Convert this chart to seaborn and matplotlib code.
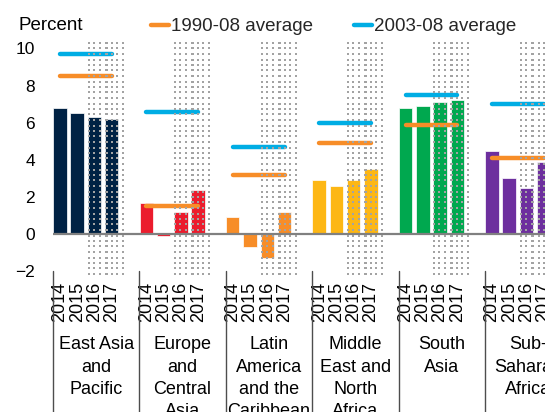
import numpy as np
import pandas as pd
import matplotlib
matplotlib.use("Agg")
import matplotlib.pyplot as plt
import matplotlib.transforms as mtransforms
from matplotlib.colors import to_rgba
from matplotlib.lines import Line2D
import seaborn as sns

# data (percent)
regions = [
    "East Asia\nand\nPacific",
    "Europe\nand\nCentral\nAsia",
    "Latin\nAmerica\nand the\nCaribbean",
    "Middle\nEast and\nNorth\nAfrica",
    "South\nAsia",
    "Sub-\nSaharan\nAfrica",
]
years = ["2014", "2015", "2016", "2017"]
growth_2014 = [6.8, 1.7, 0.9, 2.9, 6.8, 4.5]
growth_2015 = [6.5, -0.1, -0.7, 2.6, 6.9, 3.0]
growth_2016 = [6.3, 1.2, -1.3, 2.9, 7.1, 2.5]
growth_2017 = [6.2, 2.4, 1.2, 3.5, 7.2, 3.9]
avg_1990_08 = [8.5, 1.5, 3.2, 4.9, 5.9, 4.1]
avg_2003_08 = [9.7, 6.6, 4.7, 6.0, 7.5, 7.0]
forecast_years = ["2016", "2017"]

region_colors = ["#002244", "#EB1C2D", "#F78D28", "#FDB714", "#00A84F", "#6D2F9E"]
ORANGE = "#F78D28"
BLUE = "#00ADE4"
DOTS = "#a3a3a3"
SLOTS = 5  # 4 years + one empty slot between regions
YMIN, YMAX = -2.2, 10.4
XMIN, XMAX = -0.4, 28.07

sns.set_theme(style="white")
plt.rcParams["font.family"] = ["Liberation Sans", "DejaVu Sans"]


def dot_texture(w, h, step=5.5, size=2):
    # small grey squares on a transparent background (forecast shading)
    img = np.zeros((h, w, 4))
    col = to_rgba(DOTS)
    for yy in np.round(np.arange(1, h - 1, step)).astype(int):
        for xx in np.round(np.arange(1, w - 1, step)).astype(int):
            img[yy:yy + size, xx:xx + size] = col
    return img


rows = []
for g, region in enumerate(regions):
    vals = [growth_2014[g], growth_2015[g], growth_2016[g], growth_2017[g]]
    for i, (yr, v) in enumerate(zip(years, vals)):
        rows.append({"region": region, "year": yr, "value": v, "pos": g * SLOTS + i})
df = pd.DataFrame(rows)

fig = plt.figure(figsize=(5.45, 4.12), dpi=100)
ax_w_px, ax_h_px = 545 - 53, 234
ax = fig.add_axes([53 / 545, 137 / 412, ax_w_px / 545, ax_h_px / 412])

sns.barplot(data=df, x="pos", y="value", hue="region", hue_order=regions,
            palette=region_colors, saturation=1, native_scale=True, dodge=False,
            width=0.78, errorbar=None, legend=False, edgecolor="white",
            linewidth=0.5, ax=ax, zorder=2)

ax.axhline(0, color="#808080", lw=1.6, zorder=3)

# period averages as short horizontal strokes over each region's bars
starts = [g * SLOTS for g in range(len(regions))]
ends = [g * SLOTS + len(years) - 1 for g in range(len(regions))]
for vals, col in [(avg_1990_08, ORANGE), (avg_2003_08, BLUE)]:
    lc = ax.hlines(vals, starts, ends, colors=col, lw=3.2, zorder=4)
    lc.set_capstyle("round")

# dotted shading over forecast years
px_per_slot = ax_w_px / (XMAX - XMIN)
for g in range(len(regions)):
    x0 = g * SLOTS + years.index(forecast_years[0]) - 0.45
    x1 = g * SLOTS + years.index(forecast_years[-1]) + 0.65
    tex = dot_texture(int(round((x1 - x0) * px_per_slot)), ax_h_px)
    ax.imshow(tex, extent=(x0, x1, YMIN, YMAX), aspect="auto",
              interpolation="nearest", zorder=5)

ax.set_xlim(XMIN, XMAX)
ax.set_ylim(YMIN, YMAX)
ax.set_yticks(range(-2, 11, 2))
ax.set_xticks(df["pos"], labels=df["year"], rotation=90)
ax.tick_params(axis="y", length=0, pad=13, labelsize=12.5, labelcolor="black")
ax.tick_params(axis="x", length=0, pad=5, labelsize=13, labelcolor="black")
ax.set_xlabel("")
ax.set_ylabel("")
for sp in ax.spines.values():
    sp.set_visible(False)

# multi-level category axis: separators and region names
trans = mtransforms.blended_transform_factory(ax.transData, ax.transAxes)
y_sep_top = (-2 - YMIN) / (YMAX - YMIN)
for g in range(len(regions)):
    x = g * SLOTS - 0.4
    ax.plot([x, x], [y_sep_top, -0.62], transform=trans, clip_on=False,
            color="#4d4d4d", lw=1.0)
    ax.text(g * SLOTS + 2.1, -0.262, regions[g], transform=trans, ha="center",
            va="top", fontsize=13, color="black", linespacing=1.4)

fig.text(19 / 545, 1 - 25.5 / 412, "Percent", ha="left", va="center",
         fontsize=13.5, color="black")
handles = [Line2D([], [], color=ORANGE, lw=3.2, solid_capstyle="round"),
           Line2D([], [], color=BLUE, lw=3.2, solid_capstyle="round")]
fig.legend(handles, ["1990-08 average", "2003-08 average"], loc="center left",
           bbox_to_anchor=(151 / 545, 1 - 26.5 / 412), ncol=2, frameon=False,
           fontsize=13.5, handlelength=0.95, handletextpad=0.1,
           columnspacing=2.2, borderpad=0, borderaxespad=0)

fig.savefig("out.png", dpi=100)
